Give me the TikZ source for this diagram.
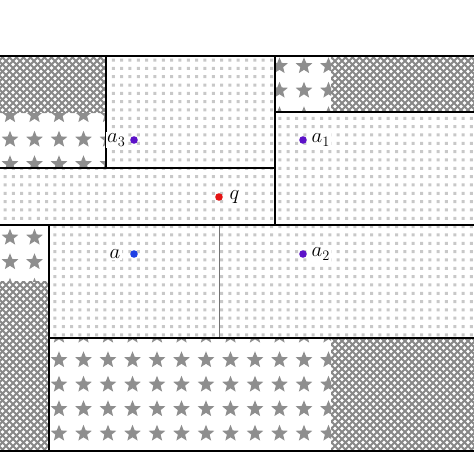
\documentclass[tikz,border=0pt]{standalone}
\usetikzlibrary{shapes.geometric}
\definecolor{dotgray}{RGB}{200,200,200}
\definecolor{hatchgray}{RGB}{136,136,136}
\definecolor{stargray}{RGB}{142,142,142}
\definecolor{ptpurple}{RGB}{92,18,200}
\definecolor{ptblue}{RGB}{30,64,228}
\definecolor{ptred}{RGB}{228,20,20}
\tikzset{
  hatchline/.style={hatchgray, line width=2.0pt},
  starmark/.style={star, star points=5, star point ratio=2.3, minimum size=17.5pt, inner sep=0pt, fill=stargray, draw=none},
  wall/.style={black, line width=1.3pt},
  thinwall/.style={black!55, line width=0.9pt},
  pt/.style={circle, inner sep=0pt, minimum size=7.6pt, draw=none},
  lbl/.style={fill=white, inner sep=1.5pt, font=\fontsize{20}{24}\selectfont},
}
\begin{document}
\begin{tikzpicture}[x=1pt,y=-1pt]
\useasboundingbox (0,0) rectangle (474,474);
\fill[white] (0,0) rectangle (474,474);
% dotted regions
\begin{scope}
\clip (106,56) rectangle (275,168)
      (0,168) rectangle (275,225)
      (275,112) rectangle (474,225)
      (49,225) rectangle (474,338);
\fill[dotgray] \foreach \i in {0,...,56} { \foreach \j in {6,...,41} {
  ({3.5+8.33*\i},{0.2+8.33*\j}) rectangle ++(3,3) } };
\end{scope}
% crosshatch regions
\begin{scope}
\clip (0,56) rectangle (106,113)
      (331,56) rectangle (474,112)
      (0,281) rectangle (49,451)
      (331,338) rectangle (474,451);
\draw[hatchline] \foreach \k in {-80,...,80} {
  ({7*\k-20},0) -- ++(500,500)
  ({7*\k+480},0) -- ++(-500,500) };
\end{scope}
% star regions
\begin{scope}
\clip (0,113) rectangle (106,168);
\foreach \i in {0,...,4} \foreach \j in {0,1,2}
  \node[starmark] at ({10+24.5*\i},{115+24.5*\j}) {};
\end{scope}
\begin{scope}
\clip (275,56) rectangle (331,112);
\foreach \i in {11,12,13} \foreach \j in {-2,-1,0}
  \node[starmark] at ({10+24.5*\i},{115+24.5*\j}) {};
\end{scope}
\begin{scope}
\clip (0,225) rectangle (49,281);
\foreach \i in {0,1} \foreach \j in {5,6,7}
  \node[starmark] at ({10+24.5*\i},{115+24.5*\j}) {};
\end{scope}
\begin{scope}
\clip (49,338) rectangle (331,451);
\foreach \i in {2,...,13} \foreach \j in {9,...,13}
  \node[starmark] at ({10+24.5*\i},{115+24.5*\j}) {};
\end{scope}
% walls
\draw[thinwall] (219,225) -- (219,338);
\draw[wall] (0,56) -- (474,56);
\draw[wall] (0,451) -- (474,451);
\draw[wall] (0,168) -- (275,168);
\draw[wall] (275,112) -- (474,112);
\draw[wall] (0,225) -- (474,225);
\draw[wall] (49,338) -- (474,338);
\draw[wall] (106,56) -- (106,168);
\draw[wall] (275,56) -- (275,225);
\draw[wall] (49,225) -- (49,451);
% points
\node[pt, fill=ptpurple] (a3) at (134,140) {};
\node[pt, fill=ptpurple] (a1) at (303,140) {};
\node[pt, fill=ptred] (q) at (219,197) {};
\node[pt, fill=ptblue] (a) at (134,254) {};
\node[pt, fill=ptpurple] (a2) at (303,254) {};
\node[lbl, anchor=east] (la3) at ([xshift=-3pt]a3.west) {$a_3$};
\node[lbl, anchor=west] (la1) at ([xshift=3pt]a1.east) {$a_1$};
\node[lbl, anchor=west] (lq) at ([xshift=5pt]q.east) {$q$};
\node[lbl, anchor=east] (la) at ([xshift=-8pt]a.west) {$a$};
\node[lbl, anchor=west] (la2) at ([xshift=3pt]a2.east) {$a_2$};
\end{tikzpicture}
\end{document}
